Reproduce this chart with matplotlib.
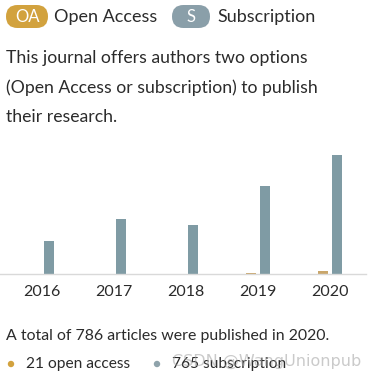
import numpy as np
import matplotlib
matplotlib.use('Agg')
import matplotlib.pyplot as plt
from matplotlib.patches import FancyBboxPatch, Circle

plt.rcParams['font.family'] = 'Lato'

# Articles per year
years = ['2016', '2017', '2018', '2019', '2020']
open_access = [0, 1, 0, 4, 21]
subscription = [212, 354, 315, 566, 765]

oa_color = '#D2A23E'
s_color = '#7F9BA4'
text_color = '#2b2b2b'

W, H = 370, 377
fig = plt.figure(figsize=(W / 100, H / 100), dpi=100)

# Overlay axes in pixel units (origin top-left) for the text blocks
bg = fig.add_axes([0, 0, 1, 1])
bg.set_xlim(0, W)
bg.set_ylim(H, 0)
bg.axis('off')

# Header pills
for x0, x1, col, lab in [(6, 48, oa_color, 'OA'), (172, 210, '#8A9FA9', 'S')]:
    bg.add_patch(FancyBboxPatch((x0, 5), x1 - x0, 23,
                                boxstyle='round,pad=0,rounding_size=11.5',
                                facecolor=col, edgecolor='none'))
    bg.text((x0 + x1) / 2, 17, lab, color='white', fontsize=12,
            ha='center', va='center')
bg.text(54, 17, 'Open Access', color=text_color, fontsize=13, va='center')
bg.text(217, 17, 'Subscription', color=text_color, fontsize=13, va='center')

# Description
desc = ['This journal offers authors two options',
        '(Open Access or subscription) to publish',
        'their research.']
for i, line in enumerate(desc):
    bg.text(6, 58 + 29.5 * i, line, color=text_color, fontsize=12.7, va='center')

# Footer
bg.text(6, 336, 'A total of %d articles were published in 2020.'
        % (open_access[-1] + subscription[-1]), color=text_color, fontsize=11.4,
        va='center')
bg.add_patch(Circle((11, 364), 3.2, facecolor=oa_color, edgecolor='none'))
bg.add_patch(Circle((157, 364), 3.2, facecolor='#8FA3AB', edgecolor='none'))
bg.text(26, 364, '%d open access' % open_access[-1], color=text_color,
        fontsize=11.2, va='center')
bg.text(172, 364, '%d subscription' % subscription[-1], color=text_color,
        fontsize=11.2, va='center')
bg.text(172, 361, 'CSDN @WangUnionpub', color='#a0a0a0', alpha=0.55,
        fontsize=11.5, va='center', family='DejaVu Sans')

# Bar chart
ax = fig.add_axes([0, 103 / H, 366 / W, 124.4 / H])
x = np.arange(len(years))
ax.bar(x - 0.097, open_access, width=0.145, color='#C9A66A')
ax.bar(x + 0.097, subscription, width=0.145, color=s_color)
ax.set_xlim(-0.583, 4.5)
ax.set_ylim(0, 800)
ax.set_xticks(x)
ax.set_xticklabels(years, fontsize=11.5, color=text_color)
ax.tick_params(axis='x', length=0, pad=8)
ax.set_yticks([])
for side in ['top', 'right', 'left']:
    ax.spines[side].set_visible(False)
ax.spines['bottom'].set_color('#d9d9d9')
ax.spines['bottom'].set_linewidth(1)
ax.patch.set_alpha(0)

fig.savefig('out.png', dpi=100)
